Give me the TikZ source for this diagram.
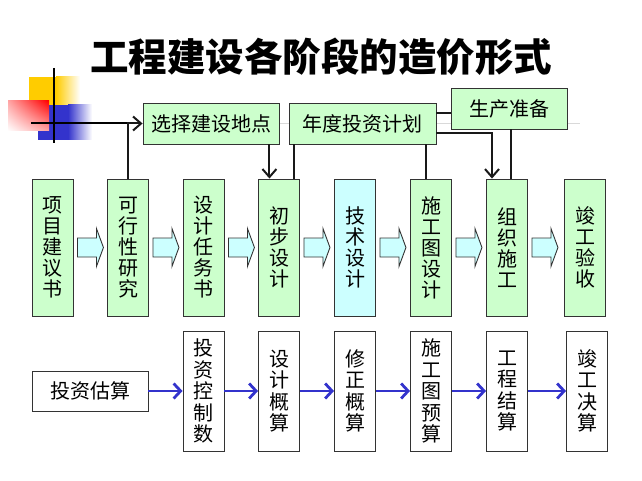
\documentclass[tikz,border=0pt]{standalone}
\usepackage{fontspec}
\setmainfont{Noto Sans CJK SC}
\usetikzlibrary{arrows.meta,backgrounds,shadings}

\definecolor{boxgreen}{HTML}{CCFFCC}
\definecolor{boxcyan}{HTML}{CCFFFF}
\definecolor{costblue}{HTML}{3333CC}
\definecolor{logoyellow}{HTML}{FFCC00}

\begin{document}
\begin{tikzpicture}
[every node/.style={inner sep=0pt},
 stage/.style={rectangle, minimum width=41pt, minimum height=137pt, fill=boxgreen, draw=black!80, line width=0.9pt, align=center, font=\fontsize{20pt}{21pt}\selectfont},
 cost/.style={rectangle, minimum width=41pt, minimum height=120pt, fill=white, draw=black!80, line width=0.9pt, align=center, font=\fontsize{20pt}{21.5pt}\selectfont},
 plan/.style={rectangle, minimum height=41pt, fill=boxgreen, draw=black!80, line width=0.9pt, font=\fontsize{20pt}{21pt}\selectfont},
 flowarrow/.style={fill=boxcyan, draw=black!80, line width=0.9pt},
 link/.style={line width=2pt, color=black!90},
 linkarrow/.style={link, -{Straight Barb[length=8pt,width=14pt]}},
 costarrow/.style={line width=2.8pt, color=costblue, -{Straight Barb[length=7pt,width=15pt]}}]
\useasboundingbox (0pt,0pt) rectangle (642pt,-481pt);
% logo
\fill [logoyellow] (29pt,-77pt) rectangle (56pt,-105pt);
\shade [left color=logoyellow, right color=white] (56pt,-77pt) rectangle (80pt,-105pt);
\fill [costblue] (38pt,-105pt) rectangle (68pt,-140pt);
\shade [left color=costblue, right color=white] (68pt,-105pt) rectangle (92pt,-140pt);
\shade [upper right=red, lower left=white, upper left=red!35, lower right=red!35] (8pt,-101pt) rectangle (49pt,-131pt);
\draw [line width=2.5pt] (54pt,-68pt) -- (54pt,-143pt);
\draw [line width=2pt] (31pt,-123.5pt) -- (127pt,-123.5pt);
% title
\node (title) [font=\fontsize{38.5pt}{40pt}\selectfont\bfseries] at (321pt, -57pt) {工程建设各阶段的造价形式};
% stages
\node (xm) [stage] at (52.5pt, -247.5pt) {项\\目\\建\\议\\书};
\node (kx) [stage] at (128pt, -247.5pt) {可\\行\\性\\研\\究};
\node (rw) [stage] at (203.5pt, -247.5pt) {设\\计\\任\\务\\书};
\node (cb) [stage] at (279pt, -247.5pt) {初\\步\\设\\计};
\node (js) [stage, fill=boxcyan] at (355pt, -247.5pt) {技\\术\\设\\计};
\node (sg) [stage] at (431pt, -247.5pt) {施\\工\\图\\设\\计};
\node (zz) [stage] at (507pt, -247.5pt) {组\\织\\施\\工};
\node (jg) [stage] at (585pt, -247.5pt) {竣\\工\\验\\收};
\foreach \a/\b in {xm/kx, kx/rw, rw/cb, cb/js, js/sg, sg/zz, zz/jg}
  \draw [flowarrow] ([xshift=4pt, yshift=9.5pt]\a.east) -- ++(19pt,0) -- ++(0,9.5pt) -- ++(7pt,-19pt) -- ++(-7pt,-19pt) -- ++(0,9.5pt) -- ++(-19pt,0) -- cycle;
% plans
\node (site) [plan, minimum width=136pt] at (211pt, -123.5pt) {选择建设地点};
\node (year) [plan, minimum width=147pt] at (362.5pt, -123.5pt) {年度投资计划};
\node (prep) [plan, minimum width=116pt] at (509pt, -108.5pt) {生产准备};
\begin{scope}[on background layer]
\draw [line width=1.5pt, color=black!15] (site.east) -- (580pt, -123.5pt);
\end{scope}
\draw [linkarrow] (kx.north) |- (site.west);
\draw [linkarrow] ([xshift=-10pt]site.south east) -- ([xshift=-10pt]site.south east |- cb.north);
\draw [link] ([xshift=5pt]year.south west) -- ([xshift=5pt]year.south west |- cb.north);
\draw [link] ([xshift=-10pt]year.south east) -- ([xshift=-10pt]year.south east |- sg.north);
\draw [link] ([yshift=10.5pt]year.east) -- (prep.west |- 0,-113pt);
\draw [linkarrow] ([yshift=-9.5pt]year.east) -| ([xshift=-15pt]zz.north);
\draw [link] ([xshift=2pt]prep.south) -- ([xshift=2pt]prep.south |- zz.north);
% costs
\node (gs) [cost, minimum width=116pt, minimum height=40pt] at (90pt, -391pt) {投资估算};
\node (kz) [cost] at (203.5pt, -391pt) {投\\资\\控\\制\\数};
\node (gai) [cost] at (279pt, -391pt) {设\\计\\概\\算};
\node (xz) [cost] at (355pt, -391pt) {修\\正\\概\\算};
\node (yu) [cost] at (431pt, -391pt) {施\\工\\图\\预\\算};
\node (jie) [cost] at (507pt, -391pt) {工\\程\\结\\算};
\node (jue) [cost] at (587pt, -391pt) {竣\\工\\决\\算};
\foreach \a/\b in {gs/kz, kz/gai, gai/xz, xz/yu, yu/jie, jie/jue}
  \draw [costarrow] (\a.east) -- (\b.west);
\end{tikzpicture}
\end{document}
